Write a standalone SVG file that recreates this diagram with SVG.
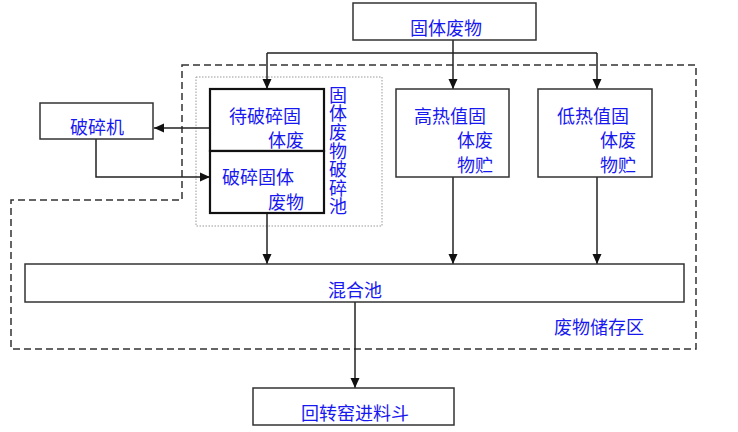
<svg xmlns="http://www.w3.org/2000/svg" width="738" height="432" viewBox="0 0 738 432">
<defs>
<marker id="arr" markerWidth="11" markerHeight="11" refX="10" refY="5.5" orient="auto" markerUnits="userSpaceOnUse">
<path d="M0,1 L10,5.5 L0,10 Z" fill="#111"/>
</marker>
<style>
.box{fill:#fff;stroke:#333;stroke-width:1.5}
.tbox{fill:#fff;stroke:#111;stroke-width:2.2}
.ln{fill:none;stroke:#222;stroke-width:1.5}
.t{font-family:"Noto Sans CJK SC","Noto Sans CJK JP",sans-serif;font-size:18px;fill:#1818f0}
.e{text-anchor:end}
.m{text-anchor:middle}
</style>
</defs>
<rect width="738" height="432" fill="#fff"/>
<g id="zone">
<path d="M182,65 H696 V349 H11 V200 H182 Z" fill="none" stroke="#333" stroke-width="1.5" stroke-dasharray="7,4"/>
<rect x="196" y="77" width="186" height="149" fill="none" stroke="#999" stroke-width="1" stroke-dasharray="1.5,1.5"/>
<text class="t" x="644" y="334" text-anchor="end">废物储存区</text>
</g>
<g id="connectors">
<path class="ln" d="M453,40 V53 M267,53 H597"/>
<path class="ln" d="M267,53 V89" marker-end="url(#arr)"/>
<path class="ln" d="M453,53 V89" marker-end="url(#arr)"/>
<path class="ln" d="M597,53 V89" marker-end="url(#arr)"/>
<path class="ln" d="M210,128 H154" marker-end="url(#arr)"/>
<path class="ln" d="M96,139 V177 H210" marker-end="url(#arr)"/>
<path class="ln" d="M267,213 V264" marker-end="url(#arr)"/>
<path class="ln" d="M453,177 V264" marker-end="url(#arr)"/>
<path class="ln" d="M597,177 V264" marker-end="url(#arr)"/>
<path class="ln" d="M355,302 V388" marker-end="url(#arr)"/>
</g>
<g id="solid-waste">
<rect class="box" x="353" y="3" width="183" height="37" stroke-width="2"/>
<text class="t m" x="446" y="35">固体废物</text>
</g>
<g id="crusher">
<rect class="box" x="40" y="103" width="113" height="36"/>
<text class="t m" x="97" y="134">破碎机</text>
</g>
<g id="to-crush">
<rect class="tbox" x="210" y="89" width="114" height="62"/>
<text class="t" x="229" y="123">待破碎固</text>
<text class="t e" x="304" y="147">体废</text>
</g>
<g id="crushed">
<rect class="tbox" x="210" y="151" width="114" height="62"/>
<text class="t" x="222" y="184">破碎固体</text>
<text class="t e" x="304" y="209">废物</text>
</g>
<g id="crush-pool-label">
<text class="t" x="338" y="86" writing-mode="vertical-rl" letter-spacing="0.6">固体废物破碎池</text>
</g>
<g id="high-heat">
<rect class="box" x="396" y="89" width="113" height="88"/>
<text class="t" x="414" y="123">高热值固</text>
<text class="t e" x="493" y="147">体废</text>
<text class="t e" x="493" y="172">物贮</text>
</g>
<g id="low-heat">
<rect class="box" x="538" y="89" width="114" height="88"/>
<text class="t" x="557" y="123">低热值固</text>
<text class="t e" x="636" y="147">体废</text>
<text class="t e" x="636" y="172">物贮</text>
</g>
<g id="mix-pool">
<rect class="box" x="25" y="264" width="659" height="38" stroke-width="2"/>
<text class="t m" x="355" y="297">混合池</text>
</g>
<g id="kiln-hopper">
<rect class="box" x="253" y="388" width="201" height="37"/>
<text class="t m" x="355" y="420">回转窑进料斗</text>
</g>
</svg>
